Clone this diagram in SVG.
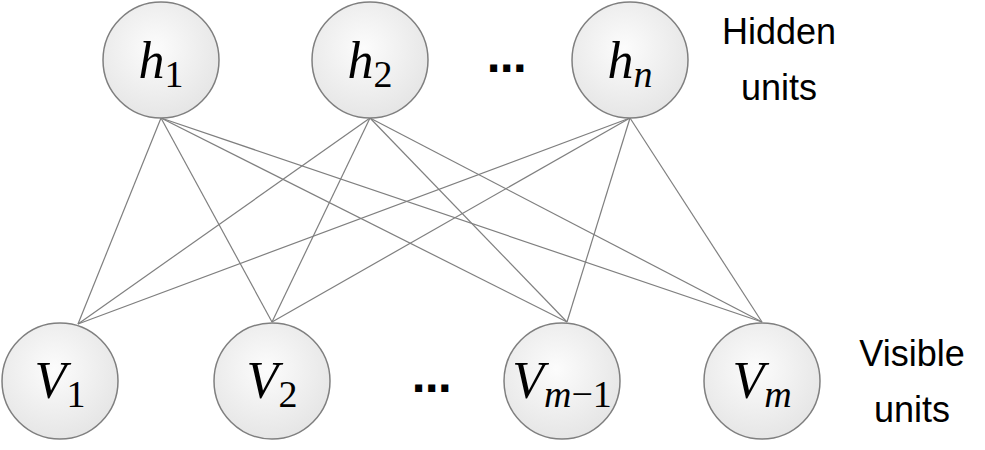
<svg xmlns="http://www.w3.org/2000/svg" width="985" height="450" viewBox="0 0 985 450">
<style>
.n{stroke:#7f7f7f;stroke-width:1.5;fill:url(#g)}
.m{font-family:"Liberation Serif",serif;font-style:italic;font-size:52px;fill:#000;text-anchor:middle}
.s{font-style:normal;font-size:38px}
.i{font-style:italic;font-size:38px}
.d{font-family:"DejaVu Sans",sans-serif;font-size:40px;font-weight:bold;fill:#000;text-anchor:middle}
.l{font-family:"Liberation Sans",sans-serif;font-size:36px;fill:#000;text-anchor:middle}
#edges line{stroke:#7f7f7f;stroke-width:1.2}
</style>
<defs><radialGradient id="g" cx="0.45" cy="0.4" r="0.65"><stop offset="0" stop-color="#fcfcfc"/><stop offset="1" stop-color="#e4e4e4"/></radialGradient></defs>
<rect width="985" height="450" fill="#fff"/>
<g id="edges">
<line x1="161" y1="118" x2="78" y2="324"/><line x1="161" y1="118" x2="272" y2="322"/><line x1="161" y1="118" x2="567" y2="322"/><line x1="161" y1="118" x2="762" y2="322"/>
<line x1="370" y1="118" x2="78" y2="324"/><line x1="370" y1="118" x2="272" y2="322"/><line x1="370" y1="118" x2="567" y2="322"/><line x1="370" y1="118" x2="762" y2="322"/>
<line x1="630" y1="118" x2="78" y2="324"/><line x1="630" y1="118" x2="272" y2="322"/><line x1="630" y1="118" x2="567" y2="322"/><line x1="630" y1="118" x2="762" y2="322"/>
</g>
<g id="h1"><circle class="n" cx="161" cy="60" r="58"/><text class="m" x="161" y="78">h<tspan class="s" dy="9">1</tspan></text></g>
<g id="h2"><circle class="n" cx="370" cy="60" r="58"/><text class="m" x="370" y="78">h<tspan class="s" dy="9">2</tspan></text></g>
<g id="hn"><circle class="n" cx="630" cy="60" r="58"/><text class="m" x="630" y="78">h<tspan class="i" dy="9">n</tspan></text></g>
<g id="v1"><circle class="n" cx="60" cy="381" r="58"/><text class="m" x="60" y="398">V<tspan class="s" dy="9">1</tspan></text></g>
<g id="v2"><circle class="n" cx="272" cy="381" r="58"/><text class="m" x="272" y="398">V<tspan class="s" dy="9">2</tspan></text></g>
<g id="vm1"><circle class="n" cx="562" cy="381" r="58"/><text class="m" x="562" y="398">V<tspan class="i" dy="9">m</tspan><tspan class="s">−1</tspan></text></g>
<g id="vm"><circle class="n" cx="762" cy="381" r="58"/><text class="m" x="762" y="398">V<tspan class="i" dy="9">m</tspan></text></g>
<text class="d" x="507" y="82">⋯</text>
<text class="d" x="432" y="402">⋯</text>
<text class="l" x="779" y="44">Hidden</text><text class="l" x="779" y="100">units</text>
<text class="l" x="912" y="366">Visible</text><text class="l" x="912" y="422">units</text>
</svg>
